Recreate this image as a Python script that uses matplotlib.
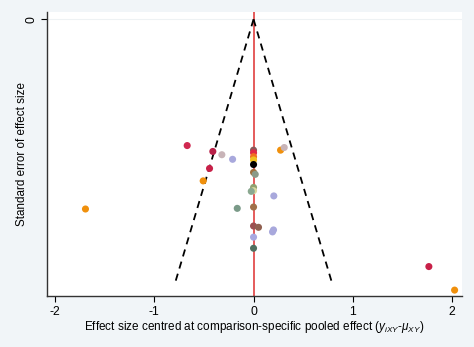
import matplotlib
matplotlib.use("Agg")
import matplotlib.pyplot as plt
import numpy as np

plt.rcParams['font.family'] = ['Liberation Sans', 'DejaVu Sans']
plt.rcParams['mathtext.fontset'] = 'custom'
plt.rcParams['mathtext.it'] = 'Liberation Sans:italic'
plt.rcParams['mathtext.rm'] = 'Liberation Sans'

# effect size centred (x), standard error (y), colour
x_vals = [-0.668, -0.410, -0.319, -0.211, -0.443, -0.507,
          0.0, 0.0, 0.0, 0.0, 0.0, 0.0, 0.017, 0.0, 0.0, -0.023,
          0.204, -0.164, 0.0, 0.0, 0.05, 0.191, 0.201, 0.0, 0.0,
          0.272, 0.309, -1.692, 1.765, 2.024]
se_vals = [0.193, 0.202, 0.207, 0.214, 0.228, 0.247,
           0.200, 0.204, 0.210, 0.215, 0.222, 0.234, 0.237, 0.257, 0.262, 0.263,
           0.270, 0.289, 0.287, 0.316, 0.318, 0.325, 0.322, 0.333, 0.350,
           0.200, 0.196, 0.290, 0.378, 0.414]
colors = ['#d02850', '#b82048', '#c8b4b8', '#a8a8dc', '#c82048', '#f0900c',
          '#8a5a5a', '#e02848', '#f07020', '#f0c020', '#000000', '#a0703c', '#8a9a88', '#90a070', '#d8d8a0', '#8aa890',
          '#a8a8dc', '#7a9a88', '#a0704a', '#9a5050', '#906050', '#a8a8dc', '#a8a8dc', '#a8a8e0', '#507060',
          '#f0900c', '#c8b4b8', '#f0900c', '#c82048', '#f0900c']

se_max = 0.40
x_ticks = [-2, -1, 0, 1, 2]

fig = plt.figure(figsize=(4.74, 3.47), dpi=100, facecolor='#f1f5f8')
ax = fig.add_axes([0.099, 0.147, 0.876, 0.818])
ax.set_facecolor('white')

ax.axhline(0, color='#eef2f4', lw=0.8, zorder=0)
ax.axvline(0, color='#e04040', lw=1.2, zorder=1)
ax.plot([0, -1.96 * se_max], [0, se_max], color='black', ls=(0, (4, 3)), lw=1.3, zorder=2)
ax.plot([0, 1.96 * se_max], [0, se_max], color='black', ls=(0, (4, 3)), lw=1.3, zorder=2)
ax.scatter(x_vals, se_vals, s=26, c=colors, edgecolors='none', zorder=3)

ax.set_xlim(-2.08, 2.1)
ax.set_ylim(0.423, -0.011)
ax.set_xticks(x_ticks)
ax.set_xticklabels([str(t) for t in x_ticks])
ax.set_yticks([0])
ax.set_yticklabels(['0'], rotation=90, va='center')
for s in ['top', 'right']:
    ax.spines[s].set_visible(False)
for s in ['left', 'bottom']:
    ax.spines[s].set_color('#333333')
    ax.spines[s].set_linewidth(1.0)
ax.tick_params(direction='out', length=4, labelsize=8.8, colors='black', pad=3)
ax.set_xlabel(r'Effect size centred at comparison-specific pooled effect ($y_{iXY}$-$\mu_{XY}$)', fontsize=8.5, labelpad=1)
ax.set_ylabel('Standard error of effect size', fontsize=8.4)
ax.yaxis.set_label_coords(-0.046, 0.5)

fig.savefig('out.png', dpi=100, facecolor=fig.get_facecolor())
